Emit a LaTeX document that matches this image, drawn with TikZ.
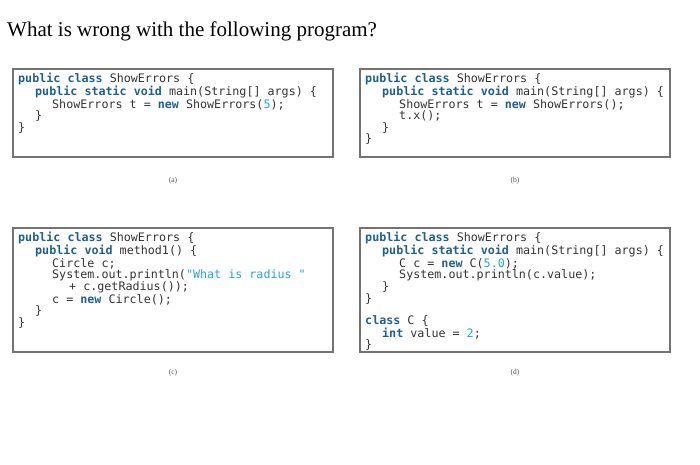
\documentclass[tikz,border=0pt]{standalone}
\usepackage{fontspec}
\setmainfont{Liberation Serif}
\newfontfamily\codefont{DejaVu Sans Mono}
\definecolor{kwc}{HTML}{1F5F8F}
\definecolor{litc}{HTML}{2AA3DC}
\definecolor{txt}{HTML}{333333}
\newcommand{\kw}[1]{{\bfseries\color{kwc}#1}}
\newcommand{\lit}[1]{{\color{litc}#1}}
\newcommand{\ia}{\hspace*{17pt}}
\newcommand{\ib}{\hspace*{34pt}}
\newcommand{\ic}{\hspace*{51pt}}
\begin{document}
\begin{tikzpicture}[x=1pt,y=-1pt,
  codebox/.style={draw=black!55,line width=1.2pt},
  code/.style={anchor=north west,align=left,inner sep=0pt,text=txt,
    font=\codefont\fontsize{11.7}{10.3}\selectfont},
  captxt/.style={font=\fontsize{7.5}{8}\selectfont,text=black!70}]
\useasboundingbox (0,0) rectangle (700,464);
\node[anchor=base west,inner sep=0pt,font=\fontsize{21}{24}\selectfont] (title) at (7,36) {What is wrong with the following program?};
\draw[codebox] (13,69) rectangle (333,157) coordinate (ba);
\draw[codebox] (360,69) rectangle (670,157) coordinate (bb);
\draw[codebox] (13,228) rectangle (333,352) coordinate (bc);
\draw[codebox] (360,228) rectangle (670,352) coordinate (bd);
\node[code] (ca) at (18,73) {\kw{public class} ShowErrors \{\\
\ia\kw{public static void} main(String[] args) \{\\
\ib ShowErrors t = \kw{new} ShowErrors(\lit{5});\\
\ia\}\\
\}};
\node[code] (cb) at (365,73) {\kw{public class} ShowErrors \{\\
\ia\kw{public static void} main(String[] args) \{\\
\ib ShowErrors t = \kw{new} ShowErrors();\\
\ib t.x();\\
\ia\}\\
\}};
\node[code] (cc) at (18,232) {\kw{public class} ShowErrors \{\\
\ia\kw{public void} method1() \{\\
\ib Circle c;\\
\ib System.out.println(\lit{"What is radius "}\\
\ic+ c.getRadius());\\
\ib c = \kw{new} Circle();\\
\ia\}\\
\}};
\node[code] (cd) at (365,232) {\kw{public class} ShowErrors \{\\
\ia\kw{public static void} main(String[] args) \{\\
\ib C c = \kw{new} C(\lit{5.0});\\
\ib System.out.println(c.value);\\
\ia\}\\
\}\\[10.3pt]
\kw{class} C \{\\
\ia\kw{int} value = \lit{2};\\
\}};
\node[captxt] (la) at (173,181) {(a)};
\node[captxt] (lb) at (515,181) {(b)};
\node[captxt] (lc) at (173,373) {(c)};
\node[captxt] (ld) at (515,373) {(d)};
\end{tikzpicture}
\end{document}
